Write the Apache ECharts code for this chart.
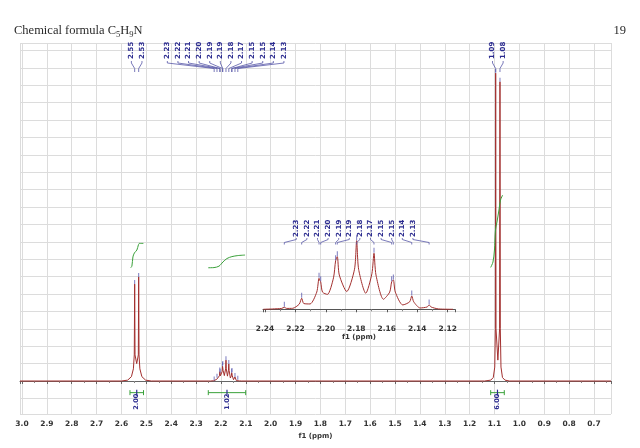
<!DOCTYPE html>
<html>
<head>
<meta charset="utf-8">
<script src="https://cdn.jsdelivr.net/npm/echarts@6/dist/echarts.min.js"></script>
<style>html,body{margin:0;padding:0;background:#fff}#chart{width:640px;height:448px}</style>
</head>
<body>
<div id="chart"></div>
<script>
// spectrum traces: [ppm, intensity]
// intensity is counted in grid rows of the main plot (baseline = 0)
var doublet255 = [
 [2.600, 0], [2.575, 0.05], [2.560, 0.25], [2.552, 0.7], [2.5485, 1.5], [2.5469, 5.57],
 [2.5455, 1.5], [2.5388, 1.0], [2.5322, 1.5], [2.5308, 5.98], [2.5294, 1.5],
 [2.526, 0.7], [2.518, 0.25], [2.503, 0.05], [2.480, 0]
];
var multiplet218 = [
 [2.2411, 0], [2.2350, 0.006], [2.2290, 0.015], [2.2273, 0.035], [2.2258, 0.015],
 [2.2218, 0.017], [2.2175, 0.09], [2.2159, 0.192], [2.2145, 0.10], [2.2104, 0.093],
 [2.2060, 0.30], [2.2045, 0.542], [2.2039, 0.50], [2.2034, 0.48], [2.2022, 0.30],
 [2.1990, 0.26], [2.1950, 0.55], [2.1936, 0.85], [2.1925, 0.92], [2.1912, 0.60],
 [2.1863, 0.31], [2.1812, 0.70], [2.1798, 1.20], [2.1785, 0.70], [2.1738, 0.28],
 [2.1698, 0.62], [2.1684, 0.979], [2.1671, 0.60], [2.1622, 0.175], [2.1581, 0.30],
 [2.1568, 0.48], [2.1557, 0.513], [2.1544, 0.30], [2.1495, 0.076], [2.1450, 0.13],
 [2.1436, 0.233], [2.1423, 0.13], [2.1381, 0.023], [2.1335, 0.04], [2.1322, 0.076],
 [2.1309, 0.04], [2.1260, 0.006], [2.1165, 0]
];
var doublet109 = [
 [1.140, 0], [1.115, 0.05], [1.105, 0.2], [1.099, 0.8], [1.0965, 3.0], [1.0953, 17.7],
 [1.094, 3.0], [1.0865, 1.2], [1.0795, 3.0], [1.0780, 17.2], [1.0767, 3.0],
 [1.074, 0.8], [1.068, 0.2], [1.058, 0.05], [1.040, 0]
];

// integral curves, same units
var integral255 = [
 [2.563, 6.51], [2.558, 6.61], [2.554, 7.13], [2.548, 7.36], [2.538, 7.53],
 [2.532, 7.82], [2.528, 7.91], [2.512, 7.91]
];
var integral218 = [
 [2.251, 6.51], [2.228, 6.52], [2.208, 6.60], [2.192, 6.84], [2.176, 7.04],
 [2.156, 7.15], [2.132, 7.21], [2.103, 7.24]
];
var integral109 = [
 [1.1154, 6.53], [1.1062, 6.84], [1.1002, 7.53], [1.0962, 8.68], [1.0901, 9.14],
 [1.0821, 9.83], [1.0760, 10.40], [1.0672, 10.69]
];
var integralRanges = [[2.5658, 2.5114], [2.2509, 2.1005], [1.1154, 1.0607]];
var integralValues = ['2.00', '1.02', '6.00'];

// picked peaks and their labels
var pickPpm = [2.5469, 2.5308, 2.2273, 2.2159, 2.2045, 2.2034, 2.1936, 2.1925,
 2.1798, 2.1684, 2.1568, 2.1557, 2.1436, 2.1322, 1.0953, 1.0780];
var pickLabels = ['2.55', '2.53', '2.23', '2.22', '2.21', '2.20', '2.19', '2.19',
 '2.18', '2.17', '2.15', '2.15', '2.14', '2.13', '1.09', '1.08'];
var pickGroups = [[0, 2], [2, 14], [14, 16]];

var mainRange = [0.6316, 3.008];
var insetRange = [2.1152, 2.2413];

var fullTrace = [[mainRange[1], 0]].concat(doublet255, multiplet218, doublet109, [[mainRange[0], 0]]);

function heightAt(p) {
 var all = doublet255.concat(multiplet218, doublet109);
 for (var i = 0; i < all.length; i++) if (all[i][0] === p) return all[i][1];
 return 0;
}

var red = '#a3302f', green = '#3aa13a', blue = '#2b2b8f';
var tickFont = { fontFamily: 'DejaVu Sans', fontSize: 7.5, fontWeight: 'bold', color: '#333' };

var chart = echarts.init(document.getElementById('chart'), null, { renderer: 'canvas' });

var option = {
 animation: false,
 backgroundColor: '#fff',
 title: [{
  text: '{a|Chemical formula C}{s|5}{a|H}{s|9}{a|N}',
  left: 14, top: 23, padding: 0,
  textStyle: { rich: {
   a: { fontFamily: 'Liberation Serif', fontSize: 12.5, fontWeight: 'normal', color: '#2a2a2a', lineHeight: 16, verticalAlign: 'middle' },
   s: { fontFamily: 'Liberation Serif', fontSize: 8.5, fontWeight: 'normal', color: '#2a2a2a', lineHeight: 8, verticalAlign: 'bottom' }
  } }
 }, {
  text: '19', right: 14, top: 24, padding: 0,
  textStyle: { fontFamily: 'Liberation Serif', fontSize: 12.5, fontWeight: 'normal', color: '#2a2a2a' }
 }],
 grid: [
  { left: 20, right: 29, top: 43, bottom: 34 },
  { left: 263, right: 185, top: 230, bottom: 129 }
 ],
 xAxis: [{
  gridIndex: 0, type: 'value', inverse: true,
  min: mainRange[0], max: mainRange[1], splitNumber: 24,
  name: 'f1 (ppm)', nameLocation: 'middle', nameGap: 14,
  nameTextStyle: { fontFamily: 'DejaVu Sans', fontSize: 7, fontWeight: 'bold', color: '#333' },
  axisLine: { lineStyle: { color: '#666', width: 1 } },
  axisTick: { length: 3, lineStyle: { color: '#666' } },
  minorTick: { show: true, splitNumber: 2, length: 2, lineStyle: { color: '#888' } },
  axisLabel: Object.assign({ margin: 6, showMinLabel: false, showMaxLabel: false,
   formatter: function (v) { return v.toFixed(1); } }, tickFont),
  splitLine: { show: true, lineStyle: { color: '#dcdcdc', width: 1 } }
 }, {
  gridIndex: 1, type: 'value', inverse: true,
  min: insetRange[0], max: insetRange[1], splitNumber: 6,
  name: 'f1 (ppm)', nameLocation: 'middle', nameGap: 14,
  nameTextStyle: { fontFamily: 'DejaVu Sans', fontSize: 7, fontWeight: 'bold', color: '#333' },
  axisLine: { lineStyle: { color: '#555', width: 1 } },
  axisTick: { length: 3, lineStyle: { color: '#555' } },
  minorTick: { show: true, splitNumber: 2, length: 2, lineStyle: { color: '#888' } },
  axisLabel: Object.assign({ margin: 6, showMinLabel: false, showMaxLabel: false,
   formatter: function (v) { return v.toFixed(2); } }, tickFont),
  splitLine: { show: false }
 }],
 yAxis: [{
  gridIndex: 0, type: 'value', min: -1.897, max: 19.43, splitNumber: 21,
  axisLine: { show: false }, axisTick: { show: false }, axisLabel: { show: false },
  splitLine: { show: true, lineStyle: { color: '#dcdcdc', width: 1 } }
 }, {
  gridIndex: 1, type: 'value', min: -0.17, max: 1.386, show: false
 }],
 series: [{
  type: 'line', xAxisIndex: 0, yAxisIndex: 0, data: fullTrace, showSymbol: false,
  lineStyle: { color: red, width: 1 }, z: 3
 }, {
  type: 'line', xAxisIndex: 1, yAxisIndex: 1, data: multiplet218, showSymbol: false,
  smooth: 0.25, lineStyle: { color: red, width: 1 }, z: 3
 }, {
  type: 'line', xAxisIndex: 0, yAxisIndex: 0, data: integral255, showSymbol: false,
  smooth: 0.3, lineStyle: { color: green, width: 1 }
 }, {
  type: 'line', xAxisIndex: 0, yAxisIndex: 0, data: integral218, showSymbol: false,
  smooth: 0.3, lineStyle: { color: green, width: 1 }
 }, {
  type: 'line', xAxisIndex: 0, yAxisIndex: 0, data: integral109, showSymbol: false,
  smooth: 0.3, lineStyle: { color: green, width: 1 }
 }, {
  type: 'scatter', xAxisIndex: 1, yAxisIndex: 1,
  data: pickPpm.slice(2, 14).map(function (p) { return [p, heightAt(p)]; }),
  symbol: 'rect', symbolSize: [1, 5], symbolOffset: [0, -3],
  itemStyle: { color: '#5a5ab0' }, z: 4
 }, {
  type: 'scatter', xAxisIndex: 0, yAxisIndex: 0,
  data: pickPpm.map(function (p) { return [p, heightAt(p)]; }),
  symbol: 'rect', symbolSize: [1, 4], symbolOffset: [0, -2],
  itemStyle: { color: '#5a5ab0' }, z: 4
 }]
};

chart.setOption(option);

// annotations: peak labels with leader lines, integral bars
var gfx = [];
function px(grid, p, v) { return chart.convertToPixel({ gridIndex: grid }, [p, v]); }

function addLabels(grid, from, to, textBottom, l1, l2, l3, l4) {
 var xs = [], sum = 0;
 for (var i = from; i < to; i++) { var x = px(grid, pickPpm[i], 0)[0]; xs.push(x); sum += x; }
 var center = sum / xs.length, step = 10.6;
 for (var k = 0; k < xs.length; k++) {
  var lx = center + (k - (xs.length - 1) / 2) * step;
  gfx.push({ type: 'text', x: lx, y: textBottom, rotation: Math.PI / 2,
   style: { text: pickLabels[from + k], fill: blue, font: 'bold 7px "DejaVu Sans"',
    align: 'left', verticalAlign: 'middle' }, z: 10 });
  gfx.push({ type: 'polyline', shape: { points: [[lx, l1], [lx, l2], [xs[k], l3], [xs[k], l4]] },
   style: { stroke: '#5858a8', lineWidth: 0.8, fill: null }, z: 10 });
 }
}
pickGroups.forEach(function (g) { addLabels(0, g[0], g[1], 59, 61, 63, 68.5, 72); });
addLabels(1, 2, 14, 237, 238, 239.5, 242.5, 244.5);

integralRanges.forEach(function (r, i) {
 var a = px(0, r[0], -0.67), b = px(0, r[1], -0.67), y = a[1], c = (a[0] + b[0]) / 2;
 gfx.push({ type: 'line', shape: { x1: a[0], y1: y, x2: b[0], y2: y }, style: { stroke: green, lineWidth: 1 } });
 gfx.push({ type: 'line', shape: { x1: a[0], y1: y - 2.5, x2: a[0], y2: y + 2.5 }, style: { stroke: green, lineWidth: 1 } });
 gfx.push({ type: 'line', shape: { x1: b[0], y1: y - 2.5, x2: b[0], y2: y + 2.5 }, style: { stroke: green, lineWidth: 1 } });
 gfx.push({ type: 'line', shape: { x1: c, y1: y - 3, x2: c, y2: y + 3 }, style: { stroke: blue, lineWidth: 1.2 } });
 gfx.push({ type: 'text', x: c, y: y + 17, rotation: Math.PI / 2,
  style: { text: integralValues[i], fill: blue, font: 'bold 6.5px "DejaVu Sans"', align: 'left', verticalAlign: 'middle' }, z: 10 });
});

chart.setOption({ graphic: gfx });
</script>
</body>
</html>
